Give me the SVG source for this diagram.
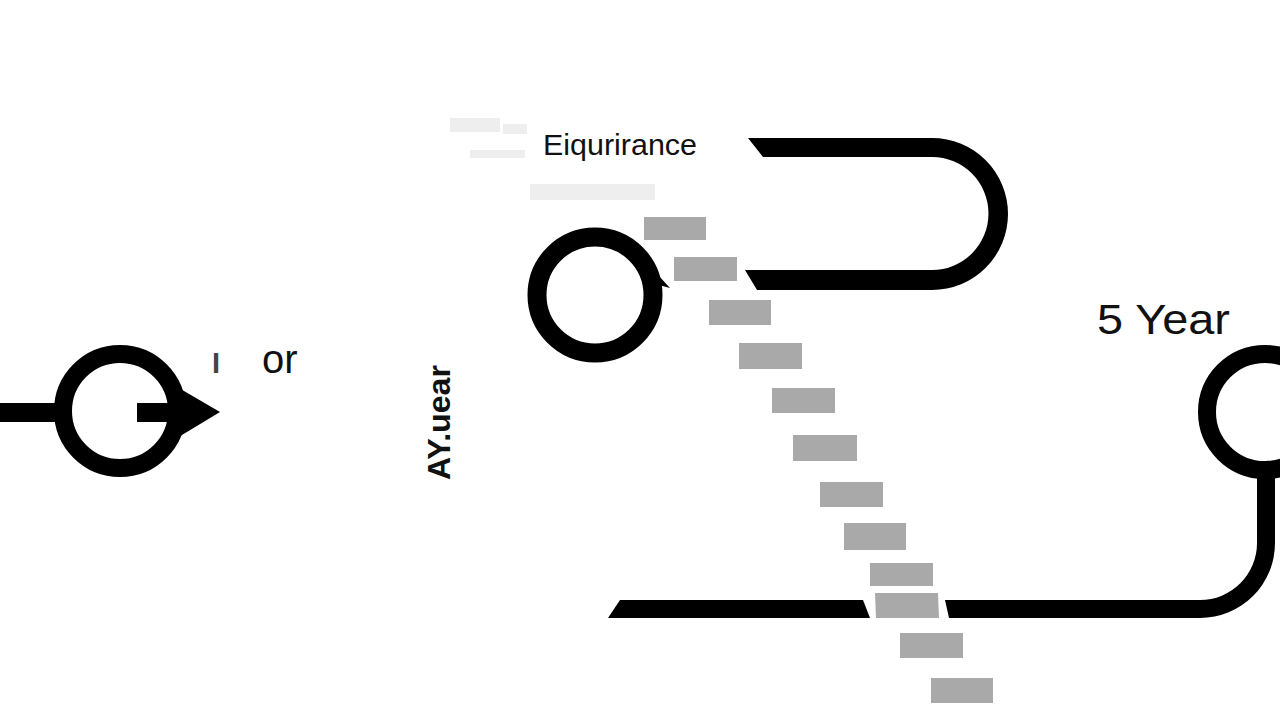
<svg xmlns="http://www.w3.org/2000/svg" width="1280" height="720" viewBox="0 0 1280 720">
  <style>
    .ring { fill: none; stroke: #000; }
    .bar { fill: #000; }
    .step { fill: #a9a9a9; }
    .ghost { fill: #eeeeee; }
    .lbl { font-family: "Liberation Sans", Arial, sans-serif; fill: #111; }
  </style>
  <rect width="1280" height="720" fill="#ffffff"/>

  <g id="ghosts">
    <rect class="ghost" x="450" y="118" width="50" height="14"/>
    <rect class="ghost" x="503" y="124" width="24" height="10"/>
    <rect class="ghost" x="470" y="150" width="55" height="8"/>
    <rect class="ghost" x="530" y="184" width="125" height="16"/>
  </g>

  <g id="connectors">
    <rect class="bar" x="0" y="403" width="62" height="19"/>
    <path class="bar" d="M748 138 L932 138 A76 76 0 0 1 932 290 L757 290 L745 270 L932 270 A56 56 0 0 0 932 157 L763 157 Z"/>
    <polygon class="bar" points="620,600 863,600 870,618 608,618"/>
    <path class="bar" d="M945 600 L1200 600 A57 57 0 0 0 1257 543 L1257 476 L1275 476 L1275 543 A75 75 0 0 1 1200 618 L949 618 Z"/>
  </g>

  <g id="node-start">
    <circle class="ring" cx="120" cy="411" r="57" stroke-width="18"/>
    <rect class="bar" x="137" y="403" width="45" height="19"/>
    <polygon class="bar" points="172,384 220,412 172,441"/>
  </g>

  <g id="node-mid">
    <circle class="ring" cx="595" cy="295" r="58" stroke-width="19"/>
    <polygon class="bar" points="646,262 670,288 655,284"/>
  </g>

  <g id="node-end">
    <circle class="ring" cx="1265" cy="412" r="58" stroke-width="18"/>
  </g>

  <g id="steps">
    <rect class="step" x="644" y="217" width="62" height="23"/>
    <rect class="step" x="674" y="257" width="63" height="24"/>
    <rect class="step" x="709" y="300" width="62" height="25"/>
    <rect class="step" x="739" y="343" width="63" height="26"/>
    <rect class="step" x="772" y="388" width="63" height="25"/>
    <rect class="step" x="793" y="435" width="64" height="26"/>
    <rect class="step" x="820" y="482" width="63" height="25"/>
    <rect class="step" x="844" y="523" width="62" height="27"/>
    <rect class="step" x="870" y="563" width="63" height="23"/>
    <polygon class="step" points="875,593 938,593 939,618 876,618"/>
    <rect class="step" x="900" y="633" width="63" height="25"/>
    <rect class="step" x="931" y="678" width="62" height="25"/>
  </g>

  <g id="labels">
    <text class="lbl" x="543" y="155" font-size="30" textLength="154" lengthAdjust="spacingAndGlyphs">Eiqurirance</text>
    <text class="lbl" x="1097" y="334" font-size="42" textLength="133" lengthAdjust="spacingAndGlyphs">5 Year</text>
    <text class="lbl" y="373"><tspan x="212" font-size="29" font-weight="bold" fill="#444">I</tspan><tspan x="262" font-size="40">or</tspan></text>
    <text class="lbl" transform="translate(450,480) rotate(-90)" font-size="32" font-weight="bold" textLength="115" lengthAdjust="spacingAndGlyphs">AY.uear</text>
  </g>
</svg>
